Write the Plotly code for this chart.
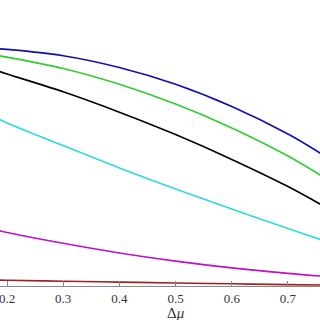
import plotly.graph_objects as go

dmu = [0.18, 0.2, 0.3, 0.4, 0.5, 0.6, 0.7, 0.76]
blue = [2.373, 2.366, 2.303, 2.185, 2.017, 1.795, 1.52, 1.32]
green = [2.309, 2.289, 2.175, 2.017, 1.819, 1.581, 1.30, 1.10]
black = [2.157, 2.12, 1.942, 1.738, 1.514, 1.266, 0.995, 0.81]
cyan = [1.685, 1.631, 1.404, 1.181, 0.971, 0.77, 0.576, 0.46]
magenta = [0.563, 0.535, 0.427, 0.33, 0.249, 0.181, 0.126, 0.098]
red = [0.06, 0.058, 0.048, 0.039, 0.03, 0.022, 0.014, 0.01]

series = [
    (blue, "#1010b0"),
    (green, "#30cc30"),
    (black, "#000000"),
    (cyan, "#30d8e0"),
    (magenta, "#c010c8"),
    (red, "#a02020"),
]

fig = go.Figure()
for ys, col in series:
    fig.add_trace(go.Scatter(x=dmu, y=ys, mode="lines",
                             line=dict(color=col, width=1.6, shape="spline", smoothing=1),
                             showlegend=False))

fig.update_layout(
    template="none",
    width=320, height=320,
    margin=dict(l=0, r=0, t=0, b=34),
    paper_bgcolor="white", plot_bgcolor="white",
    font=dict(family="Liberation Serif", size=13, color="#333"),
    xaxis=dict(range=[0.1875, 0.757], tickvals=[0.2, 0.3, 0.4, 0.5, 0.6, 0.7],
               ticktext=["0.2", "0.3", "0.4", "0.5", "0.6", "0.7"],
               showgrid=False, zeroline=False, showline=True, linecolor="#888",
               linewidth=1, ticks="inside", ticklen=5, tickcolor="#888",
               ticklabeloverflow="allow",
               automargin=False, tickfont=dict(family="Liberation Serif", size=13, color="#333")),
    yaxis=dict(range=[0, 2.86], visible=False, automargin=False),
    annotations=[dict(x=0.5, xref="x", y=-0.096, yref="paper", text="Δ<i>μ</i>",
                      showarrow=False, yanchor="middle", xanchor="center",
                      font=dict(family="Liberation Serif", size=15, color="#333"))],
)

fig.write_html("out.html")
